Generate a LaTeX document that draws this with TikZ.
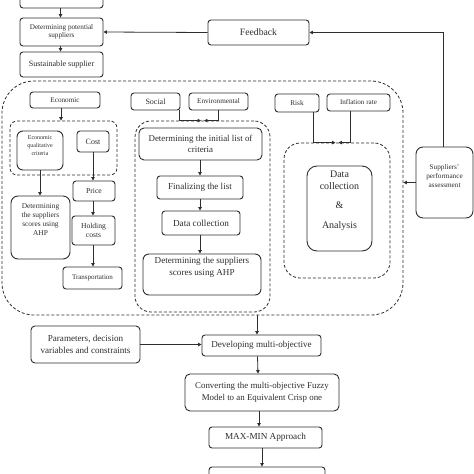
\documentclass[tikz,border=0pt]{standalone}
\usepackage{fontspec}
\setmainfont{Liberation Serif}
\usetikzlibrary{arrows.meta,calc}
\definecolor{ink}{HTML}{2E2E2E}
\newcommand{\fsz}[2]{\fontsize{#1}{#2}\selectfont}
\begin{document}
\begin{tikzpicture}[x=1pt,y=-1pt,
  box/.style={draw=ink, text=ink, rounded corners=3pt, line width=0.9pt, align=center, inner sep=1pt},
  region/.style={draw=ink, dash pattern=on 3pt off 2pt, line width=0.8pt, inner sep=0pt},
  arr/.style={draw=ink, line width=0.8pt, -{Triangle[length=3.4pt,width=3.4pt]}}]
\useasboundingbox (0,0) rectangle (474,474);
\clip (0,0) rectangle (474,474);
\fill[white] (0,0) rectangle (474,474);

% dashed regions
\node[region, rounded corners=32pt, minimum width=401pt, minimum height=234pt] (big) at (202.5,198) {};
\node[region, rounded corners=7pt, minimum width=107pt, minimum height=54pt] (d1) at (63.5,148) {};
\node[region, rounded corners=16pt, minimum width=135pt, minimum height=191pt] (d2) at (202.5,216.5) {};
\node[region, rounded corners=16pt, minimum width=106pt, minimum height=135pt] (d3) at (337,210.5) {};

% top column
\node[box, minimum width=83pt, minimum height=28pt] (top) at (61.5,-6) {};
\node[box, minimum width=83pt, minimum height=28pt, font=\fsz{7.2}{8.5}] (pot) at (61.5,32) {Determining potential\\suppliers};
\node[box, minimum width=83pt, minimum height=25pt, font=\fsz{8.1}{9}] (sust) at (61.5,64.5) {Sustainable supplier};
\node[box, minimum width=101pt, minimum height=25pt, font=\fsz{9.7}{11}] (fb) at (258.5,32.5) {Feedback};
\node[box, rounded corners=7pt, minimum width=57pt, minimum height=71pt, font=\fsz{7.2}{9}] (spa) at (444.5,182.5) {Suppliers'\\performance\\assessment\\[4pt]};

% economic
\node[box, minimum width=70pt, minimum height=16pt, font=\fsz{7.2}{8}] (econ) at (65,100) {Economic};
\node[box, rounded corners=6pt, minimum width=46pt, minimum height=39pt, font=\fsz{6}{7.7}] (eqc) at (40,150.5) {Economic\\qualitative\\criteria\\[2pt]};
\node[box, minimum width=32pt, minimum height=21pt, font=\fsz{8}{9}] (cost) at (93,141.5) {Cost};
\node[box, rounded corners=7pt, minimum width=59pt, minimum height=63pt, font=\fsz{7.4}{9}] (ahpL) at (40.5,227.5) {Determining\\the suppliers\\scores using\\AHP\\[6pt]};
\node[box, minimum width=42pt, minimum height=20pt, font=\fsz{7.7}{9}] (price) at (94,191) {Price};
\node[box, minimum width=43pt, minimum height=29pt, font=\fsz{7.6}{9}] (hold) at (93.5,230.5) {Holding\\costs};
\node[box, minimum width=59pt, minimum height=22pt, font=\fsz{7}{8.5}] (trans) at (92.5,278) {Transportation};

% social / environmental
\node[box, minimum width=49pt, minimum height=17pt, font=\fsz{8}{9}] (social) at (155.5,101.5) {Social};
\node[box, minimum width=59pt, minimum height=17pt, font=\fsz{7.2}{8}] (env) at (218.5,101.5) {Environmental};
\node[box, rounded corners=5pt, minimum width=123pt, minimum height=32pt, font=\fsz{8.9}{11.5}] (init) at (200.5,144) {Determining the initial list of\\criteria};
\node[box, minimum width=86pt, minimum height=23pt, font=\fsz{9.1}{10}] (final) at (200,187.5) {Finalizing the list};
\node[box, minimum width=78pt, minimum height=24pt, font=\fsz{9.2}{10}] (dc) at (201,223) {Data collection};
\node[box, rounded corners=6pt, minimum width=118pt, minimum height=41pt, font=\fsz{9.1}{11.5}] (ahpM) at (202,274.5) {Determining the suppliers\\scores using AHP\\[5pt]};

% risk
\node[box, minimum width=44pt, minimum height=18pt, font=\fsz{7.2}{8}] (risk) at (297,103) {Risk};
\node[box, minimum width=63pt, minimum height=17pt, font=\fsz{7.1}{8}] (infl) at (358.5,102.5) {Inflation rate};
\node[box, rounded corners=10pt, minimum width=65pt, minimum height=85pt, font=\fsz{10}{12}] (dca) at (339.5,208.5) {Data\\collection\\[7pt]\&\\[8pt]Analysis\\[6pt]};

% bottom chain
\node[box, rounded corners=4pt, minimum width=109pt, minimum height=37pt, font=\fsz{9.1}{11.5}] (params) at (85.5,344.5) {Parameters, decision\\variables and constraints};
\node[box, minimum width=119pt, minimum height=21pt, font=\fsz{9.1}{10}] (dev) at (261.5,345.5) {Developing multi-objective};
\node[box, rounded corners=5pt, minimum width=154pt, minimum height=37pt, font=\fsz{8.9}{11.5}] (conv) at (262,392.5) {Converting the multi-objective Fuzzy\\Model to an Equivalent Crisp one};
\node[box, minimum width=113pt, minimum height=21pt, font=\fsz{9.2}{10}] (mm) at (265.5,437.5) {MAX-MIN Approach};
\node[box, minimum width=116pt, minimum height=23pt] (last) at (267,478.5) {};

% connectors
\draw[arr] ([xshift=-1pt]top.south) -- ([xshift=-1pt]pot.north);
\draw[arr] ([xshift=-1pt]pot.south) -- ([xshift=-1pt]sust.north);
\draw[arr] (fb.west) -- (pot.east);
\draw[arr] ([xshift=-1.5pt]spa.north) |- (fb.east);
\draw[arr] (spa.west) -- (big.east |- spa.west);
\draw[arr] ([xshift=-2.5pt]d1.north |- econ.south) -- ([xshift=-2.5pt]d1.north);
\draw[arr] (eqc.south) -- (ahpL.north -| eqc.south);
\draw[arr] (cost.south) -- (price.north -| cost.south);
\draw[arr] (price.south -| cost.south) -- (hold.north -| cost.south);
\draw[arr] (hold.south -| cost.south) -- (trans.north -| cost.south);
\draw[arr] ([xshift=-1.5pt]social.south east) |- ([xshift=-1.5pt]d2.north);
\draw[arr] (env.south) |- ([xshift=1.5pt]d2.north);
\draw[arr] (init.south -| final.north) -- (final.north);
\draw[arr] (final.south) -- (dc.north -| final.south);
\draw[arr] (dc.south -| final.south) -- (ahpM.north -| final.south);
\draw[arr] ([xshift=-6pt]risk.south east) |- ([xshift=-1.5pt]d3.north);
\draw[arr] ([xshift=-8pt]infl.south) |- ([xshift=1.5pt]d3.north);
\draw[arr] ([xshift=-4.5pt]dev.north |- big.south) -- ([xshift=-4.5pt]dev.north);
\draw[arr] (params.east) -- (params.east -| dev.west);
\draw[arr] ([xshift=-4pt]dev.south) -- ([xshift=-4pt]conv.north);
\draw[arr] ([xshift=-3pt]conv.south) -- ([xshift=-3pt]conv.south |- mm.north);
\draw[arr] ([xshift=-3.5pt]mm.south) -- ([xshift=-3.5pt]mm.south |- last.north);
\end{tikzpicture}
\end{document}
